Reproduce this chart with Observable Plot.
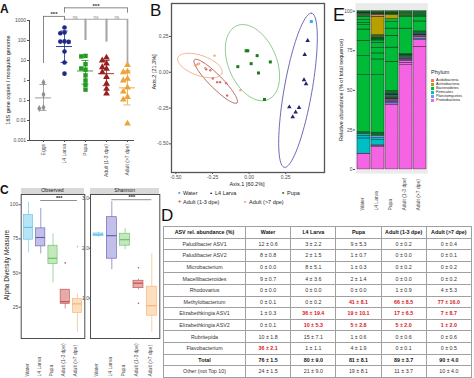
<!DOCTYPE html>
<html>
<head>
<meta charset="utf-8">
<script src="https://cdn.jsdelivr.net/npm/d3@7"></script>
<script src="https://cdn.jsdelivr.net/npm/@observablehq/plot@0.6"></script>
<style>
html,body{margin:0;padding:0;background:#fff;}
#fig{position:relative;width:474px;height:378px;overflow:hidden;background:#fff;font-family:"Liberation Sans",Arial,sans-serif;color:#222;}
#fig svg{overflow:visible;display:block;}
.t{position:absolute;white-space:nowrap;line-height:1;}
.r{transform:translate(-50%,-50%) rotate(-90deg);}
.c{transform:translate(-50%,-50%);}
.l{transform:translate(0,-50%);}
table.asv{position:absolute;left:163px;top:226px;width:308px;border-collapse:collapse;font-size:5.3px;table-layout:fixed;border:1px solid #555;color:#333;}
table.asv td,table.asv th{border:0.6px solid #a0a0a0;height:10.6px;padding:0;text-align:center;white-space:nowrap;overflow:hidden;font-weight:normal;}
table.asv th{font-weight:bold;color:#111;}
table.asv td.red{color:#d8141c;font-weight:bold;}
table.asv tr.bold td{font-weight:bold;color:#111;}
</style>
</head>
<body>
<div id="fig"></div>
<script>
// ---------------- DATA ----------------
// Panel A: 16S gene copies / mosquito genome
const groupsA = ["Eggs","L4 Larva","Pupa","Adult (1-3 dpe)","Adult (>7 dpe)"];
const copiesEggs = [0.8, 0.2, 0.045, 0.04];
const copiesLarva = [450, 250, 230, 90, 85, 88, 28, 8, 2.2];
const copiesPupa = [16, 17, 6.5, 4, 3.5, 1.8, 1.0, 0.6, 0.35];
const copiesAdult13 = [14, 10, 7, 4.6, 3.8, 2.6, 1.5, 0.7, 0.38, 0.22];
const copiesAdult7 = [6, 2.8, 2.6, 1.2, 1.0, 0.45, 0.28, 0.15, 0.11, 0.007];
const meanA = [0.135, 50, 3, 2.2, 0.43];
const lowA = [0.032, 8, 0.65, 0.55, 0.06];
const highA = [0.63, 300, 10, 10, 3];
const yTicksA = [0.001, 0.01, 0.1, 1, 10, 100, 1000];
// significance brackets (group indices, heights in copies)
const bracketFrom = [0, 1, 1, 2, 3];
const bracketTo = [1, 4, 2, 3, 4];
const bracketLevel = [1600, 4300, 1150, 1150, 1150];
const bracketLegFrom = [7, 2300, 1000, 100, 85];
const bracketLegTo = [1000, 2300, 100, 85, 7];
const bracketLabel = ["***", "***", "ns", "ns", "ns"];

// Panel B: PCoA
const groupsB = ["Water","L4 Larva","Pupa","Adult (1-3 dpe)","Adult (>7 dpe)"];
const pcoaWater = [[0.425, 0.354]];
const pcoaLarva = [[0.40,0.22],[0.38,0.123],[0.375,-0.053],[0.389,-0.081],[0.275,-0.243],[0.341,-0.248],[0.318,-0.278],[0.298,-0.3125]];
const pcoaPupa = [[-0.02,0.15],[-0.009,0.15],[0.055,0.116],[0.014,0.06],[0.145,0.072],[-0.077,0.039],[0.064,-0.005],[0.105,-0.19]];
const pcoaAdult13 = [[-0.293,0.021],[-0.265,0.014],[-0.248,-0.044],[-0.218,-0.069],[-0.198,-0.069],[-0.157,-0.076],[-0.15,-0.162]];
const pcoaAdult7 = [[-0.37,0.05],[-0.362,0.05],[-0.352,0.056],[-0.342,0.06],[-0.236,0.116],[-0.30,0.03],[-0.06,-0.125]];
const xTicksB = [-0.5, -0.25, 0, 0.25];
const yTicksB = [-0.5, -0.25, 0, 0.25];
// 95% ellipses: group index, centre, semi-axes, angle (deg)
const ellGroup = [1, 2, 3, 4];
const ellCx = [0.334, 0.023, -0.228, -0.336];
const ellCy = [-0.126, 0.067, -0.063, 0.047];
const ellA = [0.546, 0.279, 0.209, 0.16];
const ellB = [0.095, 0.165, 0.045, 0.07];
const ellDeg = [80.2, -68, -46, -20];

// Panel C: alpha diversity boxplots
const groupsC = ["Water","L4 Larva","Pupa","Adult (1-3 dpe)","Adult (>7 dpe)"];
const obsLo = [64.7, 64, 42.8, 23.7, 6.6];
const obsQ1 = [74.4, 69.5, 56.6, 27.4, 20.8];
const obsMed = [83.4, 76, 60.8, 29, 27.4];
const obsQ3 = [92.5, 82.7, 70, 37.8, 31];
const obsHi = [102, 97.3, 78.6, 37.8, 34.7];
const obsOutGroup = [3, 4];
const obsOutValue = [57.4, 69.3];
const shLo = [2.22, 1.57, 1.97, 1.17, 0.32];
const shQ1 = [2.245, 1.79, 2.05, 1.2, 0.65];
const shMed = [2.27, 2.25, 2.17, 1.3, 0.85];
const shQ3 = [2.295, 2.62, 2.29, 1.35, 1.23];
const shHi = [2.32, 2.93, 2.39, 1.38, 1.89];
const shOutGroup = [3, 3];
const shOutValue = [1.61, 0.9];

// Panel D: ASV table
const asvNames = ["Paludibacter ASV1","Paludibacter ASV2","Microbacterium","Macellibacteroides","Rhodovarius","Methylobacterium","Elizabethkingia ASV1","Elizabethkingia ASV2","Rubritepida","Flavobacterium"];
const tableCols = ["Water","L4 Larva","Pupa","Adult (1-3 dpe)","Adult (>7 dpe)"];
const meanWater = [12,8,0,9,0,0,1,0,10,36];
const sdWater = [0.6,0.8,0.0,0.7,0.0,0.1,0.3,0.1,1.8,2.1];
const meanLarva = [3,2,8,4,0,0,36,10,15,1];
const sdLarva = [2.2,1.5,5.1,3.6,0.0,0.2,19.4,5.3,7.1,1.1];
const meanPupa = [9,1,1,2,0,41,19,5,1,4];
const sdPupa = [5.3,0.7,0.3,1.4,0.0,8.1,10.1,2.8,0.6,1.9];
const meanAd13 = [0,0,0,0,1,66,17,5,0,0];
const sdAd13 = [0.2,0.0,0.2,0.0,0.9,8.5,6.5,2.0,0.6,0.1];
const meanAd7 = [0,0,0,0,4,77,7,1,0,0];
const sdAd7 = [0.4,0.1,0.2,0.2,5.3,16.0,8.7,2.0,0.6,0.5];
const redRows = [[9],[6,7],[5,6,7],[5,6,7],[5,6,7]];
const totalMean = [76,80,81,89,90];
const totalSd = [1.5,9.0,8.1,3.7,4.0];
const otherMean = [24,21,19,11,10];
const otherSd = [1.5,9.0,8.1,3.7,4.0];

// Panel E: stacked relative abundance (phylum code, % per ASV, bottom to top)
const phyla = ["Acidobacteria","Actinobacteria","Bacteroidetes","Firmicutes","Planctomycetes","Proteobacteria"];
const phylumCode = {A:"Acidobacteria", T:"Actinobacteria", B:"Bacteroidetes", F:"Firmicutes", L:"Planctomycetes", P:"Proteobacteria"};
const samplesE = ["Water","L4 Larva","Pupa","Adult (1-3 dpe)","Adult (>7 dpe)"];
const segWater = [["P",10],["F",9.6],["F",1.6],["F",1.3],["B",0.5],["B",0.5],["B",36.1],["B",12],["B",9.7],["B",7.1],["B",2.8],["B",1.4],["B",1.7],["B",2.1],["B",0.6],["A",0.5],["B",0.6],["B",0.5],["B",0.5],["B",0.4],["B",0.5]];
const segLarva = [["P",14],["P",0.6],["P",0.6],["F",3.3],["F",1.3],["L",1.2],["B",0.8],["B",0.7],["B",0.8],["B",36.3],["B",9.9],["B",3.8],["B",3.5],["B",3.2],["B",1.5],["B",0.6],["B",0.6],["B",0.5],["B",0.5],["T",0.6],["B",0.6],["T",11.6],["A",1.0],["B",0.5],["T",0.5],["B",0.5],["B",0.5],["B",0.5]];
const segPupa = [["P",41],["L",1.0],["P",0.8],["P",0.5],["L",0.5],["P",0.5],["B",0.5],["P",0.5],["B",0.5],["B",0.5],["L",0.5],["B",0.5],["B",0.5],["B",0.5],["B",0.5],["B",0.9],["B",18.3],["B",9],["B",7.5],["B",4.5],["B",4],["B",2],["T",2.5],["B",0.5],["T",0.5],["B",0.5],["B",0.5],["B",0.5]];
const segAdult13 = [["P",65.9],["P",1.5],["P",1.2],["L",0.8],["P",0.6],["B",0.5],["P",0.5],["B",0.5],["B",0.5],["B",0.5],["B",0.5],["B",16],["B",7.4],["B",0.6],["B",0.6],["T",0.6],["B",0.6],["B",0.6],["B",0.6]];
const segAdult7 = [["P",77.5],["P",4.2],["L",1.0],["P",1.0],["B",0.5],["P",0.5],["B",0.5],["B",0.5],["L",0.5],["B",0.5],["B",0.5],["B",6.3],["B",2.9],["B",0.6],["B",0.6],["B",0.6],["B",0.6],["B",0.6],["B",0.6]];
const yTicksE = [0, 25, 50, 75, 100];

// ---------------- STYLES ----------------
const FONT = '"Liberation Sans", Arial, sans-serif';
const colorsA = ["#8f8f8f","#1d2a86","#239b23","#962020","#eda33a"];
const symbolsA = ["diamond","circle","square","triangle","triangle"];
const sizesA = [2.1, 2.3, 2.5, 2.5, 2.5];
const colorsB = ["#3aa8e4","#23236e","#1d7d1d","#d4706a","#f4a582"];
const symbolsB = ["square","triangle","square","circle","circle"];
const ellColors = ["#3aa8e4","#5a5ab0","#82c482","#a85a50","#f2a884"];
const fillC = ["#9fdcf2","#aeaae0","#ade0a6","#dc8e8e","#fcd3a8"];
const strokeC = ["#5fc2e8","#5f58b0","#62bd62","#c04848","#f4b070"];
const phylaColors = ["#F8766D","#B79F00","#00BA38","#00BFC4","#619CFF","#F564E3"];

const fig = document.getElementById("fig");
function put(node, x, y){ node.style.position = "absolute"; node.style.left = x + "px"; node.style.top = y + "px"; fig.appendChild(node); return node; }
function txt(s, x, y, cls, css){ const d = document.createElement("div"); d.className = "t " + (cls || ""); d.textContent = s; d.style.left = x + "px"; d.style.top = y + "px"; if (css) Object.assign(d.style, css); fig.appendChild(d); return d; }
const base = {fontFamily: FONT, fontSize: "5px", color: "#4d4d4d", background: "transparent", overflow: "visible"};

// ---------------- PANEL A ----------------
function dodge(vals, i){
  const placed = [], out = [];
  vals.slice().sort((a, b) => b - a).forEach(v => {
    const ypx = -20 * Math.log10(v);
    for (const o of [0, -1, 1, -2, 2, -3, 3]) {
      if (!placed.some(p => p.o === o && Math.abs(p.y - ypx) < 4.4)) { placed.push({o, y: ypx}); out.push({i, v, x: i + o * 0.2}); break; }
    }
  });
  return out;
}
const ptsA = [copiesEggs, copiesLarva, copiesPupa, copiesAdult13, copiesAdult7].flatMap((vals, i) => dodge(vals, i));
const statsA = groupsA.map((g, i) => ({i, mean: meanA[i], lo: lowA[i], hi: highA[i], c: colorsA[i]}));
const brA = bracketFrom.map((f, k) => ({f, t: bracketTo[k], y: bracketLevel[k], lf: bracketLegFrom[k], lt: bracketLegTo[k], lab: bracketLabel[k], ns: bracketLabel[k] === "ns"}));
const brSig = brA.filter(b => !b.ns), brNs = brA.filter(b => b.ns);
const plotA = Plot.plot({
  width: 150, height: 185, marginLeft: 29, marginRight: 17, marginTop: 20, marginBottom: 45,
  style: base,
  color: {type: "identity"},
  x: {domain: [-0.667, 4.286], ticks: [0,1,2,3,4], tickFormat: i => groupsA[i], tickRotate: -90, tickSize: 2, tickPadding: 1.5, label: null, line: true},
  y: {type: "log", domain: [0.001, 1000], ticks: yTicksA, tickFormat: d => String(d), tickSize: 2, tickPadding: 1.5, label: null, line: true},
  marks: [
    Plot.ruleY(brNs, {y: "y", x1: "f", x2: "t", stroke: "#a8a8a8", strokeWidth: 1}),
    Plot.ruleX(brNs, {x: "f", y1: "y", y2: "lf", stroke: "#a8a8a8", strokeWidth: 1.7}),
    Plot.ruleX(brNs, {x: "t", y1: "y", y2: "lt", stroke: "#a8a8a8", strokeWidth: 1.7}),
    Plot.ruleY(brSig, {y: "y", x1: "f", x2: "t", stroke: "#6a6a6a", strokeWidth: 0.8}),
    Plot.ruleX(brSig, {x: "f", y1: "y", y2: "lf", stroke: "#6a6a6a", strokeWidth: 0.8}),
    Plot.ruleX(brSig, {x: "t", y1: "y", y2: "lt", stroke: "#6a6a6a", strokeWidth: 0.8}),
    Plot.text(brSig, {x: d => (d.f + d.t) / 2, y: "y", text: "lab", dy: -2.2, fontSize: 6, fontWeight: "bold", fill: "#333"}),
    Plot.text(brNs, {x: d => (d.f + d.t) / 2, y: "y", text: "lab", dy: -2.2, fontSize: 4.5, fill: "#888"}),
    ...groupsA.map((g, i) => Plot.dot(ptsA.filter(p => p.i === i), {x: "x", y: "v", symbol: symbolsA[i], r: sizesA[i], fill: colorsA[i], stroke: "none"})),
    Plot.ruleX(statsA, {x: "i", y1: "lo", y2: "hi", stroke: "c", strokeWidth: 0.8}),
    Plot.ruleY(statsA, {y: "lo", x1: d => d.i - 0.17, x2: d => d.i + 0.17, stroke: "c", strokeWidth: 0.8}),
    Plot.ruleY(statsA, {y: "hi", x1: d => d.i - 0.17, x2: d => d.i + 0.17, stroke: "c", strokeWidth: 0.8}),
    Plot.ruleY(statsA, {y: "mean", x1: d => d.i - 0.38, x2: d => d.i + 0.38, stroke: "c", strokeWidth: 0.9})
  ]
});
put(plotA, 0, 0);
txt("16S gene copies / mosquito genome", 9, 80, "r", {fontSize: "5.5px", color: "#222"});

// ---------------- PANEL B ----------------
const ptsB = [pcoaWater, pcoaLarva, pcoaPupa, pcoaAdult13, pcoaAdult7].flatMap((arr, g) => arr.map(([x, y]) => ({g, x, y})));
const ellPts = ellGroup.flatMap((g, k) => {
  const th = ellDeg[k] * Math.PI / 180;
  return d3.range(0, 97).map(j => {
    const t = j / 96 * 2 * Math.PI;
    return {k, c: ellColors[g],
      x: ellCx[k] + ellA[k] * Math.cos(t) * Math.cos(th) - ellB[k] * Math.sin(t) * Math.sin(th),
      y: ellCy[k] + ellA[k] * Math.cos(t) * Math.sin(th) + ellB[k] * Math.sin(t) * Math.cos(th)};
  });
});
const plotB = Plot.plot({
  width: 175, height: 190, marginLeft: 21, marginRight: 1, marginTop: 3, marginBottom: 18,
  style: base,
  color: {type: "identity"},
  x: {domain: [-0.53, 0.515], ticks: xTicksB, tickFormat: d => d.toFixed(2), tickSize: 2, tickPadding: 1, label: null},
  y: {domain: [-0.70, 0.48], ticks: yTicksB, tickFormat: d => d.toFixed(2), tickSize: 2, tickPadding: 1, label: null},
  marks: [
    Plot.line(ellPts, {x: "x", y: "y", z: "k", stroke: "c", strokeWidth: 0.9}),
    ...groupsB.map((g, i) => Plot.dot(ptsB.filter(p => p.g === i), {x: "x", y: "y", symbol: symbolsB[i], r: i >= 3 ? 1.2 : 1.7, fill: colorsB[i], stroke: "none"})),
    Plot.frame({stroke: "#555", strokeWidth: 1.3})
  ]
});
put(plotB, 150, 0);
txt("Axis.1   [60.2%]", 247, 185, "c", {fontSize: "5.5px", color: "#222"});
txt("Axis.2   [21.3%]", 155, 72, "r", {fontSize: "5.5px", color: "#222"});
// legend B
const legB = [[0, 179, 194], [1, 211, 194], [2, 283, 194], [3, 179, 203], [4, 245, 203]];
const legSym = ["■", "▲", "■", "✚", "■"];
legB.forEach(([g, x, y]) => {
  txt(legSym[g], x, y, "c", {fontSize: "3.6px", color: colorsB[g]});
  txt(groupsB[g], x + 4, y, "l", {fontSize: "5.5px", color: "#222"});
});

// ---------------- PANEL E ----------------
const segAll = [segWater, segLarva, segPupa, segAdult13, segAdult7].flatMap((arr, s) => arr.map(([p, v]) => ({sample: samplesE[s], phylum: phylumCode[p], value: v})));
const plotE = Plot.plot({
  width: 154, height: 215, marginLeft: 35, marginRight: 46.7, marginTop: 2.6, marginBottom: 41.9,
  style: base,
  x: {type: "band", domain: samplesE, padding: 0.1, axis: null},
  y: {domain: [-2.6, 105.1], ticks: yTicksE, tickSize: 2, tickPadding: 1, label: null},
  color: {domain: phyla, range: phylaColors},
  marks: [
    Plot.frame({fill: "#ebebeb", stroke: null}),
    Plot.ruleY([12.5, 37.5, 62.5, 87.5], {stroke: "#f6f6f6", strokeWidth: 0.4}),
    Plot.ruleY(yTicksE, {stroke: "#fff", strokeWidth: 0.8}),
    Plot.barY(segAll, {x: "sample", y: "value", fill: "phylum", stroke: "#000", strokeWidth: 0.35}),
    Plot.text(samplesE, {x: d => d, frameAnchor: "bottom", rotate: -90, textAnchor: "start", dy: 37, fontSize: 5, fill: "#4d4d4d"})
  ]
});
put(plotE, 320, 0);
txt("Relative abundance (% of total sequence)", 342, 90, "r", {fontSize: "5.5px", color: "#222"});
txt("Phylum", 431, 72.5, "l", {fontSize: "5.5px", color: "#222"});
phyla.forEach((p, k) => {
  const y = 80.6 + k * 4.0;
  const sw = document.createElement("div");
  Object.assign(sw.style, {width: "3.2px", height: "3.6px", background: phylaColors[k]});
  put(sw, 430.6, y - 1.8);
  txt(p, 436, y, "l", {fontSize: "3.7px", lineHeight: "3.7px", color: "#222"});
});

// ---------------- PANEL C ----------------
function boxData(lo, q1, md, q3, hi){ return groupsC.map((g, i) => ({i, lo: lo[i], q1: q1[i], med: md[i], q3: q3[i], hi: hi[i], f: fillC[i], s: strokeC[i]})); }
function boxMarks(box, outG, outV){
  const outs = outG.map((g, k) => ({i: g, v: outV[k], s: strokeC[g]}));
  return [
    Plot.frame({stroke: "#4d4d4d", strokeWidth: 1}),
    Plot.ruleX(box, {x: "i", y1: "lo", y2: "q1", stroke: "s", strokeWidth: 0.6}),
    Plot.ruleX(box, {x: "i", y1: "q3", y2: "hi", stroke: "s", strokeWidth: 0.6}),
    Plot.rect(box, {x1: d => d.i - 0.375, x2: d => d.i + 0.375, y1: "q1", y2: "q3", fill: "f", fillOpacity: 0.75, stroke: "s", strokeWidth: 0.6}),
    Plot.ruleY(box, {y: "med", x1: d => d.i - 0.375, x2: d => d.i + 0.375, stroke: "s", strokeWidth: 1.1}),
    Plot.dot(outs, {x: "i", y: "v", r: 0.8, fill: "s", stroke: "none"}),
    Plot.text(groupsC, {x: (d, i) => i, frameAnchor: "bottom", rotate: -90, textAnchor: "start", dy: 38, fontSize: 5, fill: "#4d4d4d"})
  ];
}
const plotObs = Plot.plot({
  width: 86, height: 184, marginLeft: 20.7, marginRight: 1.7, marginTop: 0, marginBottom: 40,
  style: base,
  color: {type: "identity"},
  x: {domain: [-0.6, 4.6], axis: null},
  y: {domain: [2.05, 107.5], ticks: [25, 50, 75, 100], tickSize: 2, tickPadding: 1, label: null},
  marks: [
    ...boxMarks(boxData(obsLo, obsQ1, obsMed, obsQ3, obsHi), obsOutGroup, obsOutValue),
    Plot.ruleY([103.1], {x1: 1, x2: 4, stroke: "#444", strokeWidth: 0.6}),
    Plot.text(["***"], {x: 2.5, y: 103.1, dy: -2, fontSize: 5.5, fontWeight: "bold", fill: "#222"})
  ]
});
put(plotObs, 0, 194);
const plotSh = Plot.plot({
  width: 74, height: 184, marginLeft: 4, marginRight: 0.7, marginTop: 0, marginBottom: 40,
  style: base,
  color: {type: "identity"},
  x: {domain: [-0.6, 4.6], axis: null},
  y: {domain: [0.194, 3.074], ticks: [1, 2, 3], tickSize: 1, tickPadding: 0.5, label: null},
  marks: [
    ...boxMarks(boxData(shLo, shQ1, shMed, shQ3, shHi), shOutGroup, shOutValue),
    Plot.ruleY([2.97], {x1: 1, x2: 4, stroke: "#444", strokeWidth: 0.6}),
    Plot.text(["***"], {x: 2.5, y: 2.97, dy: -2, fontSize: 5.5, fontWeight: "bold", fill: "#222"})
  ]
});
put(plotSh, 86, 194);
// strips
[["Observed", 20.7, 63.6], ["Shannon", 90, 69.3]].forEach(([s, x, w]) => {
  const d = document.createElement("div");
  Object.assign(d.style, {width: w + "px", height: "5.8px", background: "#d9d9d9", fontSize: "5.2px", lineHeight: "5.8px", textAlign: "center", color: "#222", fontFamily: FONT});
  d.textContent = s;
  put(d, x, 188.3);
});
txt("Alpha Diversity Measure", 7, 265, "r", {fontSize: "6.5px", color: "#222"});

// ---------------- PANEL D ----------------
const colMeans = [meanWater, meanLarva, meanPupa, meanAd13, meanAd7];
const colSds = [sdWater, sdLarva, sdPupa, sdAd13, sdAd7];
const tbl = document.createElement("table");
tbl.className = "asv";
let html = '<colgroup><col style="width:82px">' + tableCols.map(() => '<col style="width:45.2px">').join("") + '</colgroup>';
html += "<tr><th>ASV rel. abundance (%)</th>" + tableCols.map(c => "<th>" + c + "</th>").join("") + "</tr>";
asvNames.forEach((n, r) => {
  html += "<tr><td>" + n + "</td>" + tableCols.map((c, k) => '<td class="' + (redRows[k].includes(r) ? "red" : "") + '">' + colMeans[k][r] + " ± " + colSds[k][r].toFixed(1) + "</td>").join("") + "</tr>";
});
html += '<tr class="bold"><td>Total</td>' + tableCols.map((c, k) => "<td>" + totalMean[k] + " ± " + totalSd[k].toFixed(1) + "</td>").join("") + "</tr>";
html += "<tr><td>Other (not Top 10)</td>" + tableCols.map((c, k) => "<td>" + otherMean[k] + " ± " + otherSd[k].toFixed(1) + "</td>").join("") + "</tr>";
tbl.innerHTML = html;
fig.appendChild(tbl);

// ---------------- PANEL LETTERS ----------------
txt("A", 0, 3, "", {fontSize: "12px", fontWeight: "bold", color: "#111"});
txt("B", 150, 2, "", {fontSize: "17px", color: "#111"});
txt("C", 0, 184, "", {fontSize: "12px", fontWeight: "bold", color: "#111"});
txt("D", 161, 207, "", {fontSize: "17px", color: "#111"});
txt("E", 333, 6, "", {fontSize: "18px", color: "#111"});
</script>
</body>
</html>
